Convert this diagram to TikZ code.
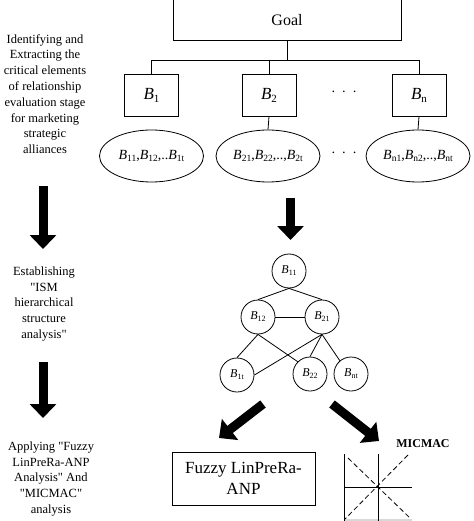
\documentclass[tikz,border=0pt]{standalone}
\usepackage{fontspec}
\setmainfont{Liberation Serif}
\usetikzlibrary{arrows.meta,shapes.geometric}
\newcommand{\Ba}[1]{\textit{B}\raisebox{-3pt}{\fontsize{11}{11}\selectfont #1}}
\newcommand{\Bb}[1]{\textit{B}\raisebox{-2.5pt}{\fontsize{9.5}{9.5}\selectfont #1}}
\newcommand{\Bc}[1]{\textit{B}\raisebox{-2pt}{\fontsize{8}{8}\selectfont #1}}
\newcommand{\q}{\textquotedbl}
\tikzset{
  line/.style={line width=0.8pt},
  sidetext/.style={align=center, font=\fontsize{12.5}{15.8}\selectfont, inner sep=0pt},
  critbox/.style={draw, line width=0.8pt, minimum width=54pt, minimum height=42pt, inner sep=0pt, font=\fontsize{17}{17}\selectfont},
  critell/.style={draw, ellipse, line width=0.8pt, minimum width=104pt, minimum height=52pt, inner sep=0pt, font=\fontsize{14}{14}\selectfont},
  ismnode/.style={draw, circle, line width=0.8pt, minimum size=34pt, inner sep=0pt, font=\fontsize{12}{12}\selectfont},
  bigarrow/.style={line width=9pt, -{Triangle[width=26pt,length=14pt]}},
  dotstext/.style={font=\fontsize{14}{14}\selectfont, inner sep=0pt}
}
\begin{document}
\begin{tikzpicture}[x=1pt,y=-1pt]
\useasboundingbox (0,0) rectangle (473,521);
% left column texts
\node[sidetext] (t1) at (45,94) {Identifying and\\Extracting the\\critical elements\\of relationship\\evaluation stage\\for marketing\\strategic\\alliances};
\node[sidetext] (t2) at (44,304) {Establishing\\\q ISM\\hierarchical\\structure\\analysis\q};
\node[sidetext] (t3) at (51,479) {Applying \q Fuzzy\\LinPreRa-ANP\\Analysis\q{} And\\\q MICMAC\q\\analysis};
% left arrows
\coordinate (la1s) at (43,186); \coordinate (la1e) at (43,249);
\coordinate (la2s) at (43,362); \coordinate (la2e) at (43,418);
\draw[bigarrow] (la1s) -- (la1e);
\draw[bigarrow] (la2s) -- (la2e);
% Goal hierarchy
\draw[line] (173,-5) rectangle (401,40);
\node[font=\fontsize{16}{16}\selectfont] (goal) at (287,20) {Goal};
\coordinate (goalb) at (287,40);
\node[critbox] (b1) at (151.5,95) {\Ba{1}};
\node[critbox] (b2) at (269,95) {\Ba{2}};
\node[critbox] (bn) at (419,95) {\Ba{n}};
\node[dotstext] (d1) at (344,94) {·\hspace{6pt}·\hspace{6pt}·};
\draw[line] (goalb) -- ++(0,20) -| (b1.north);
\draw[line] (goalb) ++(0,20) -| (b2.north);
\draw[line] (goalb) ++(0,20) -| (bn.north);
\node[critell] (e1) at (151.5,156) {\Bb{11},\Bb{12},..\Bb{1t}};
\node[critell] (e2) at (268,156) {\Bb{21},\Bb{22},..,\Bb{2t}};
\node[critell] (en) at (418,156) {\Bb{n1},\Bb{n2},..,\Bb{nt}};
\node[dotstext] (d2) at (344,155) {·\hspace{6pt}·\hspace{6pt}·};
\draw[line] (b2.south) -- (e2.north);
\draw[line] (bn.south) -- (en.north);
% middle arrow
\coordinate (mas) at (290.5,198); \coordinate (mae) at (290.5,240);
\draw[bigarrow] (mas) -- (mae);
% ISM tree
\node[ismnode] (n11) at (289,271) {\Bc{11}};
\node[ismnode] (n12) at (258,317) {\Bc{12}};
\node[ismnode] (n21) at (322,317) {\Bc{21}};
\node[ismnode] (n1t) at (237,375) {\Bc{1t}};
\node[ismnode] (n22) at (310,374) {\Bc{22}};
\node[ismnode] (nnt) at (351,374) {\Bc{nt}};
\draw[line] (n11.south) -- (n12.north);
\draw[line] (n11.south) -- (n21.north);
\draw[line] (n12.east) -- (n21.west);
\draw[line] (n12.south) -- (n1t.north);
\draw[line] (n12.south) -- (n22.135);
\draw[line] (n21.south) -- (n1t.east);
\draw[line] (n21.south) -- (n22.north);
\draw[line] (n21.south) -- (nnt.130);
% diagonal arrows
\coordinate (das) at (263,404); \coordinate (dae) at (219,438);
\coordinate (dbs) at (332,404); \coordinate (dbe) at (379,441);
\draw[bigarrow] (das) -- (dae);
\draw[bigarrow] (dbs) -- (dbe);
% Fuzzy box
\node[draw, line width=0.8pt, minimum width=143pt, minimum height=53pt, inner sep=0pt, align=center, font=\fontsize{17}{21}\selectfont] (fz) at (243.5,478.5) {Fuzzy LinPreRa-\\ANP};
% MICMAC
\node[font=\fontsize{12}{12}\selectfont\bfseries] (mic) at (423,444) {MICMAC};
\draw[black!15, line width=2pt] (344,520) -- (412,520);
\draw[line] (344,454) -- (344,521);
\draw[line] (378,454) -- (378,521);
\draw[line] (344,487) -- (412,487);
\draw[line, dash pattern=on 5pt off 3pt] (348,458) -- (411,519);
\draw[line, dash pattern=on 5pt off 3pt] (408,455) -- (345,519);
\end{tikzpicture}
\end{document}
